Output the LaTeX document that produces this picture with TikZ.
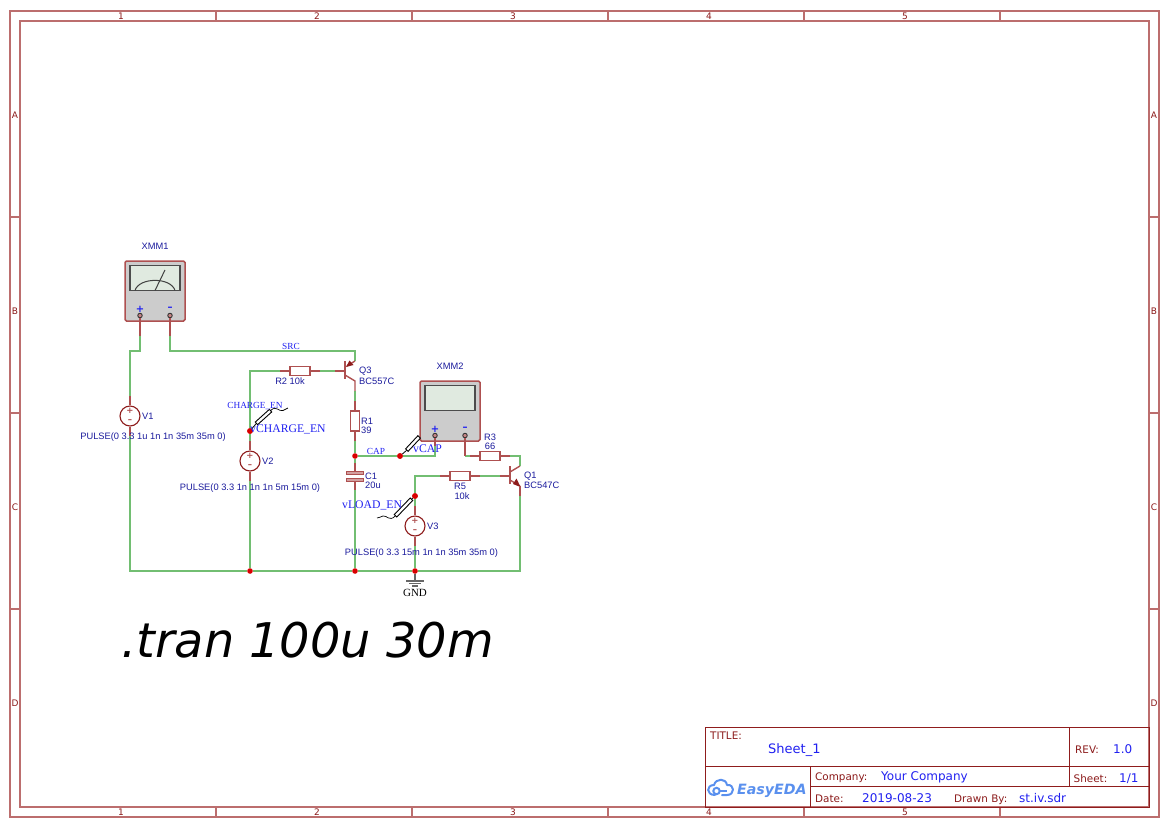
\documentclass[tikz,border=0pt]{standalone}
\usepackage{fontspec}
\usepackage{tikz}
\usetikzlibrary{arrows}
\setmainfont{DejaVu Sans}
\newfontfamily\partfont{Liberation Sans}
\newfontfamily\netfont{Liberation Serif}
\definecolor{framered}{HTML}{BC6E6E}
\definecolor{blockred}{HTML}{8F1D1D}
\definecolor{textred}{HTML}{8B1A1A}
\definecolor{partred}{HTML}{AE5050}
\definecolor{darkpart}{HTML}{8E1C1C}
\definecolor{wiregreen}{HTML}{72BE72}
\definecolor{labelblue}{HTML}{1A1A9C}
\definecolor{netblue}{HTML}{2020F0}
\definecolor{logoblue}{HTML}{5A90EE}
\definecolor{screengreen}{HTML}{E0EAE0}
\tikzset{
  frameline/.style={framered, line width=1.1pt},
  blockline/.style={blockred, line width=0.9pt},
  wire/.style={wiregreen, line width=1.4pt},
  lead/.style={partred, line width=1.4pt},
  dot/.style={circle, fill=red!85!black, minimum size=5.6pt, inner sep=0pt},
  zonetxt/.style={font=\fontsize{9}{9}\selectfont, text=textred},
  blocktxt/.style={font=\fontsize{10.4}{11}\selectfont, text=textred, anchor=base west},
  valtxt/.style={font=\fontsize{12}{13}\selectfont, text=netblue, anchor=base west},
  parttxt/.style={font=\fontsize{9.3}{10}\selectfont\partfont, text=labelblue},
  netsmall/.style={font=\fontsize{9.3}{10}\selectfont\netfont, text=netblue},
  netbig/.style={font=\fontsize{11.7}{13}\selectfont\netfont, text=netblue},
  rbox/.style={draw=partred, line width=1.3pt, fill=white, minimum width=20pt, minimum height=8.5pt},
  src/.style={circle, draw=darkpart, line width=1.1pt, fill=white, minimum size=20pt},
  srcsign/.style={font=\fontsize{8.5}{8}\selectfont\bfseries, text=partred},
  meter/.style={draw=partred, fill=black!20, rounded corners=1.5pt, line width=1.5pt, minimum width=60pt, minimum height=60pt},
  screen/.style={draw=black!70, fill=screengreen, line width=1.2pt, minimum width=50pt, minimum height=25pt},
  pinhole/.style={circle, draw=black!80, fill=partred!70, line width=0.9pt, minimum size=4.5pt},
  meterpm/.style={font=\fontsize{10}{10}\selectfont\bfseries, text=netblue},
  probe/.style={draw=black, fill=white, line width=0.9pt, minimum height=3.5pt},
  plate/.style={draw=partred, fill=partred!55, line width=0.8pt, minimum width=16.5pt, minimum height=2.4pt},
  gndline/.style={black!60, line width=1.4pt}
}

\begin{document}
\begin{tikzpicture}[x=1pt,y=-1pt,inner sep=0pt]
     \useasboundingbox (0,0) rectangle (1169,828);

     \draw[frameline] (10,11) rectangle (1159,817);
     \draw[frameline] (20,21) rectangle (1149,807);
     \draw[frameline] (216,11) -- (216,21); \draw[frameline] (412,11) -- (412,21); \draw[frameline] (608,11) -- (608,21); \draw[frameline] (804,11) -- (804,21); \draw[frameline] (1000,11) -- (1000,21);
     \draw[frameline] (216,807) -- (216,817); \draw[frameline] (412,807) -- (412,817); \draw[frameline] (608,807) -- (608,817); \draw[frameline] (804,807) -- (804,817); \draw[frameline] (1000,807) -- (1000,817);
     \draw[frameline] (10,217) -- (20,217); \draw[frameline] (10,413) -- (20,413); \draw[frameline] (10,609) -- (20,609);
     \draw[frameline] (1149,217) -- (1159,217); \draw[frameline] (1149,413) -- (1159,413); \draw[frameline] (1149,609) -- (1159,609);

     \node[zonetxt] (top1) at (121,16) {1}; \node[zonetxt] (top2) at (317,16) {2}; \node[zonetxt] (top3) at (513,16) {3}; \node[zonetxt] (top4) at (709,16) {4}; \node[zonetxt] (top5) at (905,16) {5};
     \node[zonetxt] (bot1) at (121,812) {1}; \node[zonetxt] (bot2) at (317,812) {2}; \node[zonetxt] (bot3) at (513,812) {3}; \node[zonetxt] (bot4) at (709,812) {4}; \node[zonetxt] (bot5) at (905,812) {5};
     \node[zonetxt] (leftA) at (15,115) {A}; \node[zonetxt] (leftB) at (15,311) {B}; \node[zonetxt] (leftC) at (15,507) {C}; \node[zonetxt] (leftD) at (15,703) {D};
     \node[zonetxt] (rightA) at (1154,115) {A}; \node[zonetxt] (rightB) at (1154,311) {B}; \node[zonetxt] (rightC) at (1154,507) {C}; \node[zonetxt] (rightD) at (1154,703) {D};

     \draw[blockline] (705,807) -- (705,727) -- (1149,727) -- (1149,807) -- cycle;
     \draw[blockline] (705,766) -- (1149,766);
     \draw[blockline] (1069.5,727) -- (1069.5,786);
     \draw[blockline] (810,786) -- (1149,786);
     \draw[blockline] (810,766) -- (810,807);

     \node[blocktxt] (titlekey) at (710,739.5) {TITLE:};
     \node[valtxt, font=\fontsize{13}{14}\selectfont] (titleval) at (768,753) {Sheet\_1};
     \node[blocktxt] (revkey) at (1075,753) {REV:};
     \node[valtxt] (revval) at (1113,753) {1.0};
     \node[blocktxt] (companykey) at (815,780) {Company:};
     \node[valtxt] (companyval) at (881,780) {Your Company};
     \node[blocktxt] (sheetkey) at (1073.5,782) {Sheet:};
     \node[valtxt] (sheetval) at (1119,782) {1/1};
     \node[blocktxt] (datekey) at (815,802) {Date:};
     \node[valtxt] (dateval) at (862,802) {2019-08-23};
     \node[blocktxt] (drawnkey) at (954,802) {Drawn By:};
     \node[valtxt] (drawnval) at (1019,802) {st.iv.sdr};

     \draw[logoblue, line width=2pt, line cap=round, line join=round] (715,795) .. controls (706,795) and (706,785) .. (714,785) .. controls (716,778) and (726,778) .. (727,785) .. controls (735,784) and (735,795) .. (727,795) -- (722,795);
     \draw[logoblue, line width=2pt] (716.5,791) circle (3.2pt);
     \draw[logoblue, line width=2pt] (719.5,791) -- (727,791);
     \node[anchor=base west, font=\fontsize{14.2}{16}\selectfont\bfseries\itshape, text=logoblue] (logotxt) at (737,794) {EasyEDA};

     \node[anchor=base west, font=\fontsize{47.8}{50}\selectfont\itshape, text=black] (tran) at (121,657) {.tran 100u 30m};

     \node[meter] (XMM1) at (155,291) {};
     \node[screen] (XMM1s) at (155,278) {};
     \draw[black!75, line width=1pt] (135,290.5) .. controls (139,277) and (171,277) .. (175,290.5);
     \draw[black!75, line width=1pt] (155,290.5) -- (165,270);
     \node[pinhole] (XMM1p) at (140,315.5) {};
     \node[pinhole] (XMM1m) at (170,315.5) {};
     \node[meterpm] (XMM1plus) at (140,309.5) {+};
     \node[meterpm] (XMM1minus) at (170,309) {--};
     \node[parttxt] (XMM1txt) at (155,246) {XMM1};

     \node[meter] (XMM2) at (450,411) {};
     \node[screen] (XMM2s) at (450,398) {};
     \node[pinhole] (XMM2p) at (435,435.5) {};
     \node[pinhole] (XMM2m) at (465,435.5) {};
     \node[meterpm] (XMM2plus) at (435,429.5) {+};
     \node[meterpm] (XMM2minus) at (465,429) {--};
     \node[parttxt] (XMM2txt) at (450,366) {XMM2};

     \node[dot] (Jen) at (250,431) {};
     \node[dot] (Jcap) at (355,456) {};
     \node[dot] (Jvcap) at (400,456) {};
     \node[dot] (Jload) at (415,496) {};
     \node[dot] (Jb1) at (250,571) {};
     \node[dot] (Jb2) at (355,571) {};
     \node[dot] (Jgnd) at (415,571) {};

     \node[src] (V1) at (130,416) {};
     \node[src] (V2) at (250,461) {};
     \node[src] (V3) at (415,526) {};
     \node[srcsign] (V1p) at (130,410.5) {+}; \node[srcsign] (V1m) at (130,421.5) {--};
     \node[srcsign] (V2p) at (250,455.5) {+}; \node[srcsign] (V2m) at (250,466.5) {--};
     \node[srcsign] (V3p) at (415,520.5) {+}; \node[srcsign] (V3m) at (415,531.5) {--};

     \node[rbox] (R2) at (300,371) {};
     \node[rbox] (R5) at (460,476) {};
     \node[rbox] (R3) at (490,456) {};
     \node[rbox, minimum width=8.5pt, minimum height=20pt] (R1) at (355,421) {};
     \node[plate] (C1a) at (355,473) {};
     \node[plate] (C1b) at (355,480) {};

     \coordinate (XMM1pe) at (140,336); \coordinate (XMM1me) at (170,336);
     \coordinate (V1t) at (130,396); \coordinate (V1b) at (130,436);
     \coordinate (V2t) at (250,441); \coordinate (V2b) at (250,481);
     \coordinate (V3t) at (415,506); \coordinate (V3b) at (415,546);
     \coordinate (R2w) at (280,371); \coordinate (R2e) at (320,371);
     \coordinate (R5w) at (440,476); \coordinate (R5e) at (480,476);
     \coordinate (R3w) at (470,456); \coordinate (R3e) at (510,456);
     \coordinate (R1t) at (355,401); \coordinate (R1b) at (355,441);
     \coordinate (C1t) at (355,463); \coordinate (C1e) at (355,490);
     \coordinate (Q3b) at (335,371); \coordinate (Q3bar) at (345,371); \coordinate (Q3e) at (355,361); \coordinate (Q3c) at (355,381); \coordinate (Q3ce) at (355,391);
     \coordinate (Q1b) at (500,476); \coordinate (Q1bar) at (510,476); \coordinate (Q1c) at (520,466); \coordinate (Q1e) at (520,486); \coordinate (Q1ee) at (520,496);
     \coordinate (XMM2pe) at (435,446); \coordinate (XMM2me) at (465,456);
     \coordinate (GNDt) at (415,581);

     \draw[wire] (XMM1pe) -- (140,351) -- (130,351) -- (V1t);
     \draw[wire] (XMM1me) -- (170,351) -- (355,351) -- (Q3e);
     \draw[wire] (V1b) -- (130,571) -- (Jb1) -- (Jb2) -- (Jgnd) -- (520,571) -- (Q1ee);
     \draw[wire] (R2w) -- (250,371) -- (Jen) -- (V2t);
     \draw[wire] (V2b) -- (Jb1);
     \draw[wire] (R2e) -- (Q3b);
     \draw[wire] (Q3ce) -- (R1t);
     \draw[wire] (R1b) -- (Jcap) -- (C1t);
     \draw[wire] (C1e) -- (Jb2);
     \draw[wire] (Jcap) -- (Jvcap) -- (435,456) -- (XMM2pe);
     \draw[wire] (XMM2me) -- (R3w);
     \draw[wire] (R3e) -- (520,456) -- (Q1c);
     \draw[wire] (R5w) -- (415,476) -- (Jload) -- (V3t);
     \draw[wire] (V3b) -- (Jgnd);
     \draw[wire] (R5e) -- (Q1b);

     \draw[lead] (XMM1p) -- (XMM1pe);
     \draw[lead] (XMM1m) -- (XMM1me);
     \draw[lead] (XMM2p) -- (XMM2pe);
     \draw[lead] (XMM2m) -- (XMM2me);
     \draw[lead] (V1t) -- (V1.north); \draw[lead] (V1.south) -- (V1b);
     \draw[lead] (V2t) -- (V2.north); \draw[lead] (V2.south) -- (V2b);
     \draw[lead] (V3t) -- (V3.north); \draw[lead] (V3.south) -- (V3b);
     \draw[lead] (R2w) -- (R2.west); \draw[lead] (R2.east) -- (R2e);
     \draw[lead] (R5w) -- (R5.west); \draw[lead] (R5.east) -- (R5e);
     \draw[lead] (R3w) -- (R3.west); \draw[lead] (R3.east) -- (R3e);
     \draw[lead] (R1t) -- (R1.north); \draw[lead] (R1.south) -- (R1b);
     \draw[lead] (C1t) -- (C1a); \draw[lead] (C1b) -- (C1e);

     \draw[lead] (Q3b) -- (Q3bar);
     \draw[lead, line width=1.6pt] (345,361) -- (345,379);
     \draw[lead] (Q3e) -- (347,366);
     \fill[darkpart] (346,367) -- (349.5,360.5) -- (353.5,365) -- cycle;
     \draw[lead] (345,375) -- (Q3c) -- (Q3ce);
     \draw[lead] (Q1b) -- (Q1bar);
     \draw[lead, line width=1.6pt] (510,466) -- (510,484);
     \draw[lead] (Q1c) -- (510,472);
     \draw[lead] (510,480) -- (Q1e);
     \fill[darkpart] (520.5,487) -- (513,484) -- (516.5,478.5) -- cycle;
     \draw[lead] (Q1e) -- (Q1ee);

     \draw[gndline] (Jgnd) -- (GNDt);
     \draw[gndline] (406,581) -- (424,581);
     \draw[gndline] (409,583.5) -- (421,583.5);
     \draw[gndline] (412,586) -- (418,586);

     \node[probe, rotate=42, minimum width=19pt] (P1) at (263.5,417) {};
     \draw[black, line width=0.8pt] (Jen) -- (P1.west);
     \draw[black, line width=0.7pt] (P1.east) .. controls (276,405) and (279,412) .. (283,410.5) .. controls (285,410) and (286,409) .. (288,408);
     \node[probe, rotate=47, minimum width=18pt] (P2) at (413,443.5) {};
     \draw[black, line width=0.8pt] (Jvcap) -- (P2.west);
     \node[probe, rotate=46, minimum width=23pt] (P3) at (403.5,507.5) {};
     \draw[black, line width=0.8pt] (Jload) -- (P3.east);
     \draw[black, line width=0.7pt] (P3.west) .. controls (389,522) and (387,515) .. (383,516) .. controls (381,516.5) and (379,518) .. (377,518);

     \node[dot] (Jen2) at (Jen) {};
     \node[dot] (Jvcap2) at (Jvcap) {};
     \node[dot] (Jload2) at (Jload) {};

     \node[parttxt, anchor=west] (V1txt) at (142,416) {V1};
     \node[parttxt] (V1val) at (153,437.5) {PULSE(0 3.3 1u 1n 1n 35m 35m 0)};
     \node[parttxt, anchor=west] (V2txt) at (262,461) {V2};
     \node[parttxt] (V2val) at (250,488) {PULSE(0 3.3 1n 1n 1n 5m 15m 0)};
     \node[parttxt, anchor=west] (V3txt) at (427,526) {V3};
     \node[parttxt] (V3val) at (421.5,553) {PULSE(0 3.3 15m 1n 1n 35m 35m 0)};
     \node[parttxt] (R2txt) at (290,381) {R2 10k};
     \node[parttxt, anchor=west] (R1txt) at (361,421) {R1};
     \node[parttxt, anchor=west] (R1val) at (361,430) {39};
     \node[parttxt, anchor=west] (C1txt) at (365,476) {C1};
     \node[parttxt, anchor=west] (C1val) at (365,485) {20u};
     \node[parttxt] (R3txt) at (490,437) {R3};
     \node[parttxt] (R3val) at (490,446) {66};
     \node[parttxt] (R5txt) at (460,486) {R5};
     \node[parttxt] (R5val) at (462,496) {10k};
     \node[parttxt, anchor=west] (Q3txt) at (359,371.5) {Q3};
     \node[parttxt, anchor=west] (Q3val) at (359,381) {BC557C};
     \node[parttxt, anchor=west] (Q1txt) at (524,476) {Q1};
     \node[parttxt, anchor=west] (Q1val) at (524,485) {BC547C};

     \node[netsmall] (SRCtxt) at (291,346) {SRC};
     \node[netsmall] (CAPtxt) at (376,451) {CAP};
     \node[netsmall] (ENtxt) at (255,406) {CHARGE\_EN};
     \node[netbig, anchor=west] (ENprobe) at (250,429) {vCHARGE\_EN};
     \node[netbig, anchor=west] (CAPprobe) at (413,449) {vCAP};
     \node[netbig, anchor=west] (LOADprobe) at (342,505) {vLOAD\_EN};
     \node[font=\fontsize{11}{12}\selectfont\netfont, text=black] (GNDtxt) at (415,593) {GND};
\end{tikzpicture}
\end{document}
